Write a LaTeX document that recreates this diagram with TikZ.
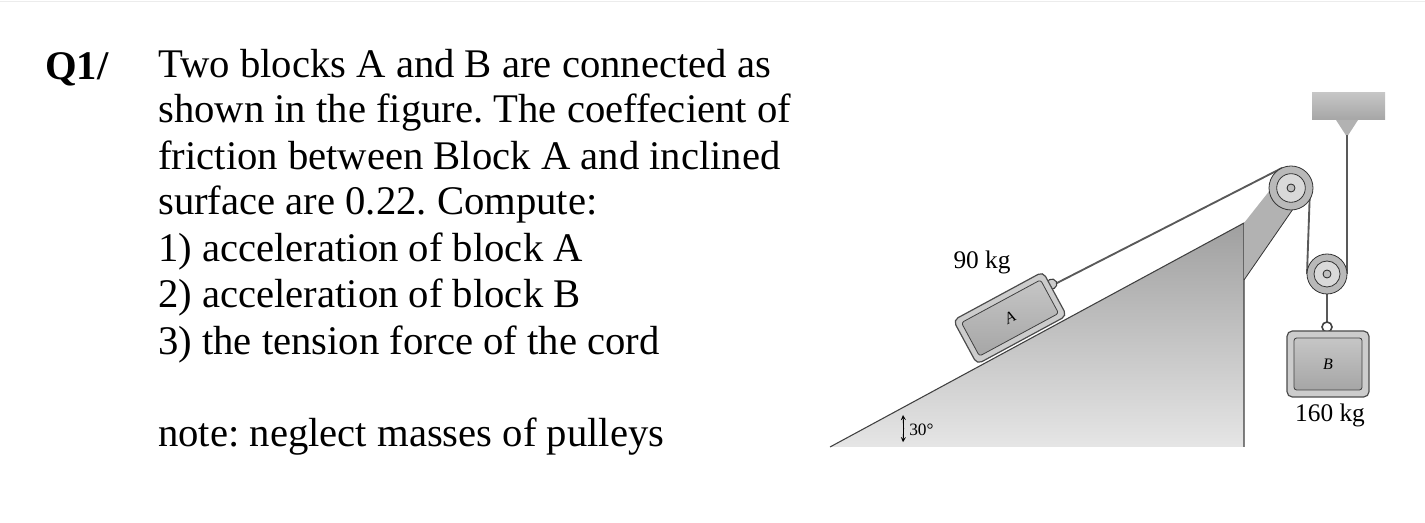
\documentclass[tikz,border=0pt]{standalone}
\usepackage{fontspec}
\setmainfont{Liberation Serif}
\begin{document}
\frenchspacing
\begin{tikzpicture}[x=0.75pt,y=-0.75pt,
  txt/.style={anchor=base west,font=\fontsize{30.5}{34}\selectfont,inner sep=0},
  lbl/.style={font=\fontsize{19}{22}\selectfont,inner sep=0},
  rope/.style={draw=gray!70!black,line width=1.4pt},
  outer/.style={draw=gray!60!black,line width=0.9pt,rounded corners=4pt,fill=gray!40},
  inner/.style={draw=gray!50!black,line width=0.6pt,rounded corners=2pt,top color=gray!45,bottom color=gray!70}]
\useasboundingbox (0,0) rectangle (1425,523);
\draw[gray!15] (0,1)--(1425,1);
% text
\node[txt,font=\bfseries\fontsize{30.5}{34}\selectfont] (q) at (45,80) {Q1/};
\node[txt] (l1) at (158,78) {Two blocks A and B are connected as};
\node[txt] (l2) at (158,123) {shown in the figure. The coeffecient of};
\node[txt] (l3) at (158,170) {friction between Block A and inclined};
\node[txt] (l4) at (158,215) {surface are 0.22. Compute:};
\node[txt] (l5) at (158,262) {1) acceleration of block A};
\node[txt] (l6) at (158,308) {2) acceleration of block B};
\node[txt] (l7) at (158,355) {3) the tension force of the cord};
\node[txt] (l8) at (158,447) {note: neglect masses of pulleys};
% incline
\coordinate (bl) at (830,447);
\coordinate (tp) at (1244,223);
\coordinate (br) at (1244,447);
\shade[top color=gray!75,bottom color=gray!20] (bl)--(tp)--(br)--cycle;
\draw[gray!50!black,line width=0.8pt] (bl)--(tp)--(br);
% bracket
\coordinate (p1) at (1291,188);
\fill[gray!60] (1244,223)--(1278,180)--(1302,196)--(1244,280)--cycle;
\draw[gray!40!black,line width=0.6pt] (1244,280)--(1302,196);
% ceiling
\shade[top color=gray!45,bottom color=gray!70] (1312,93) rectangle (1385,120);
\fill[gray!60] (1336,120)--(1358,120)--(1347,137)--cycle;
\coordinate (p2) at (1327,274);
% ropes
\draw[rope] (1347,135)--(1347,274);
\draw[rope] (1310,188)--(1307,274);
\draw[rope] (1055,284)--(1282,168);
\draw[rope] (p2)--(1327,323);
% pulleys
\foreach \c/\r in {p1/22,p2/20}{
  \fill[gray!55] (\c) circle (\r);
  \draw[gray!40!black,line width=0.6pt] (\c) circle (\r);
  \fill[gray!30] (\c) circle (\r*0.65);
  \draw[gray!40!black,line width=0.6pt] (\c) circle (\r*0.65);
  \draw[gray!30!black,fill=gray!50,line width=0.6pt] (\c) circle (4);}
% block A
\begin{scope}[shift={(1010,318)},rotate=28.4]
  \draw[gray!50!black,line width=0.8pt,fill=gray!40] (53,-10) circle (5);
  \path[outer] (-51,-25) rectangle (51,25);
  \path[inner] (-45,-19) rectangle (45,19);
  \node[font=\itshape\fontsize{12}{14}\selectfont,rotate=28.4] (Al) at (0,0) {A};
\end{scope}
% block B
\draw[gray!50!black,line width=1.2pt] (1327,327) circle (5);
\path[outer] (1287,331) rectangle (1369,397);
\path[inner] (1294,338) rectangle (1362,390);
\node[font=\itshape\fontsize{12}{14}\selectfont] (Bl) at (1328,364) {B};
% labels
\node[lbl] (m1) at (982,262) {90 kg};
\node[lbl] (m2) at (1330,415) {160 kg};
\draw[<->,>=stealth,line width=0.7pt] (903,415) arc[start angle=-4,end angle=4,radius=195];
\node[font=\fontsize{13}{15}\selectfont,anchor=west,inner sep=0] (ang) at (909,430) {30°};
\end{tikzpicture}
\end{document}
